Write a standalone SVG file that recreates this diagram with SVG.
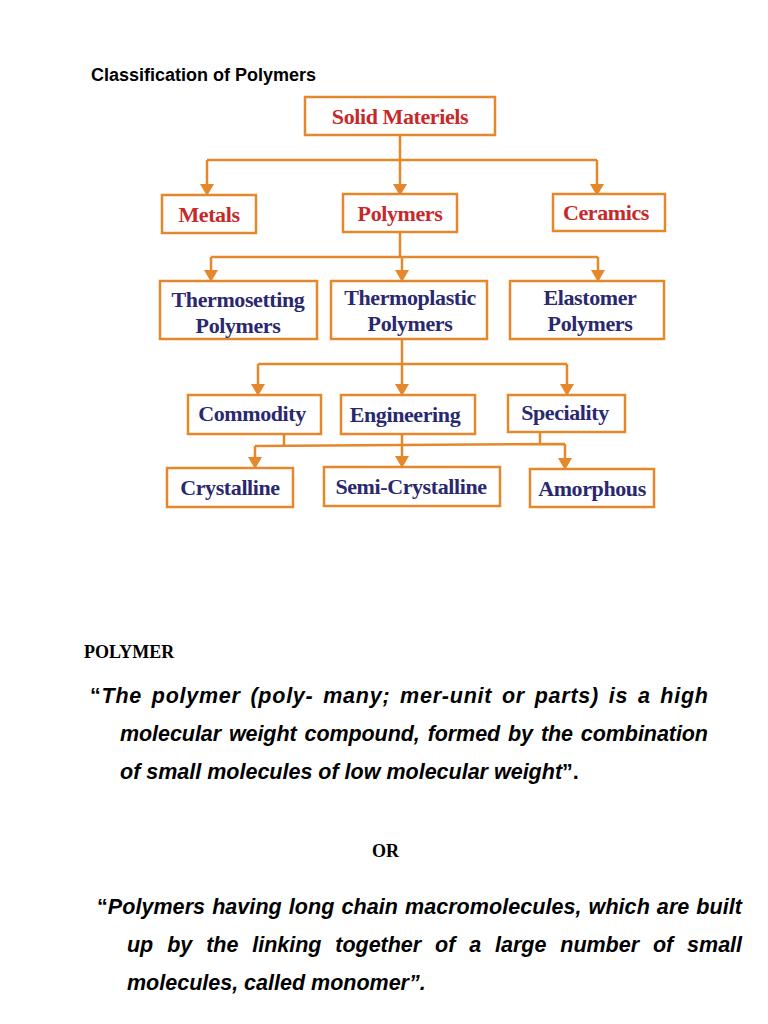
<svg xmlns="http://www.w3.org/2000/svg" width="768" height="1024" viewBox="0 0 768 1024">
<style>
.b{fill:#fff;stroke:#e5882c;stroke-width:2.5}
.r{font-family:"Liberation Serif",serif;font-weight:bold;font-size:22px;fill:#c8282a;text-anchor:middle;letter-spacing:-0.4px}
.n{font-family:"Liberation Serif",serif;font-weight:bold;font-size:22px;fill:#2a286e;text-anchor:middle;letter-spacing:-0.4px}
.c{fill:none;stroke:#e5882c;stroke-width:2.5}
.a{fill:#e5882c}
.p{font-family:"Liberation Sans",Arial,sans-serif;font-weight:bold;font-style:italic;font-size:21.5px;fill:#000}
.q{font-style:normal}
</style>
<rect width="768" height="1024" fill="#fff"/>
<text x="91" y="81" font-family="Liberation Sans,Arial,sans-serif" font-weight="bold" font-size="18">Classification of Polymers</text>
<g id="connectors">
<path class="c" d="M400,135 V160 M207,160 H597 M207,160 V186 M400,160 V186 M597,160 V186"/>
<path class="c" d="M400,232 V257 M211,257 H598 M211,257 V273 M402,257 V273 M598,257 V273"/>
<path class="c" d="M402,339 V364 M258,364 H567 M258,364 V387 M402,364 V387 M567,364 V387"/>
<path class="c" d="M284,434 V446 M540,432 V444 M255,446 L565,444 M255,446 V460 M402,434 V460 M565,444 V461"/>
<g class="a">
<path d="M200,184 L214,184 L207,196 Z"/><path d="M393,184 L407,184 L400,196 Z"/><path d="M590,184 L604,184 L597,196 Z"/>
<path d="M204,270 L218,270 L211,282 Z"/><path d="M395,270 L409,270 L402,282 Z"/><path d="M591,270 L605,270 L598,282 Z"/>
<path d="M251,384 L265,384 L258,396 Z"/><path d="M395,384 L409,384 L402,396 Z"/><path d="M560,384 L574,384 L567,396 Z"/>
<path d="M248,457 L262,457 L255,469 Z"/><path d="M395,456 L409,456 L402,468 Z"/><path d="M558,458 L572,458 L565,470 Z"/>
</g>
</g>
<g id="solid"><rect class="b" x="305" y="97" width="190" height="38"/><text class="r" x="400" y="124">Solid Materiels</text></g>
<g id="metals"><rect class="b" x="162" y="195" width="94" height="38"/><text class="r" x="209" y="222">Metals</text></g>
<g id="polymers"><rect class="b" x="343" y="194" width="114" height="38"/><text class="r" x="400" y="221">Polymers</text></g>
<g id="ceramics"><rect class="b" x="553" y="194" width="112" height="37"/><text class="r" x="606" y="220">Ceramics</text></g>
<g id="thermoset"><rect class="b" x="160" y="281" width="157" height="58"/><text class="n" x="238" y="307">Thermosetting</text><text class="n" x="238" y="333">Polymers</text></g>
<g id="thermoplastic"><rect class="b" x="331" y="281" width="156" height="58"/><text class="n" x="410" y="305">Thermoplastic</text><text class="n" x="410" y="331">Polymers</text></g>
<g id="elastomer"><rect class="b" x="510" y="281" width="154" height="58"/><text class="n" x="590" y="305">Elastomer</text><text class="n" x="590" y="331">Polymers</text></g>
<g id="commodity"><rect class="b" x="188" y="395" width="133" height="39"/><text class="n" x="252" y="421">Commodity</text></g>
<g id="engineering"><rect class="b" x="341" y="395" width="134" height="39"/><text class="n" x="405" y="422">Engineering</text></g>
<g id="speciality"><rect class="b" x="508" y="395" width="117" height="37"/><text class="n" x="565" y="420">Speciality</text></g>
<g id="crystalline"><rect class="b" x="167" y="468" width="126" height="39"/><text class="n" x="230" y="495">Crystalline</text></g>
<g id="semi"><rect class="b" x="324" y="467" width="176" height="39"/><text class="n" x="411" y="494">Semi-Crystalline</text></g>
<g id="amorphous"><rect class="b" x="530" y="469" width="124" height="38"/><text class="n" x="592" y="496">Amorphous</text></g>
<text x="84" y="658" font-family="Liberation Serif,serif" font-weight="bold" font-size="18">POLYMER</text>
<text class="p" x="90" y="703" word-spacing="3" textLength="618" lengthAdjust="spacing"><tspan class="q">“</tspan>The polymer (poly- many; mer-unit or parts) is a high</text>
<text class="p" x="120" y="741" word-spacing="2" textLength="588" lengthAdjust="spacing">molecular weight compound, formed by the combination</text>
<text class="p" x="120" y="779">of small molecules of low molecular weight<tspan class="q">”.</tspan></text>
<text x="372" y="857" font-family="Liberation Serif,serif" font-weight="bold" font-size="18">OR</text>
<text class="p" x="97" y="914" word-spacing="1" textLength="645" lengthAdjust="spacing"><tspan class="q">“</tspan>Polymers having long chain macromolecules, which are built</text>
<text class="p" x="127" y="952" word-spacing="8" textLength="615" lengthAdjust="spacing">up by the linking together of a large number of small</text>
<text class="p" x="127" y="990">molecules, called monomer”.</text>
</svg>
